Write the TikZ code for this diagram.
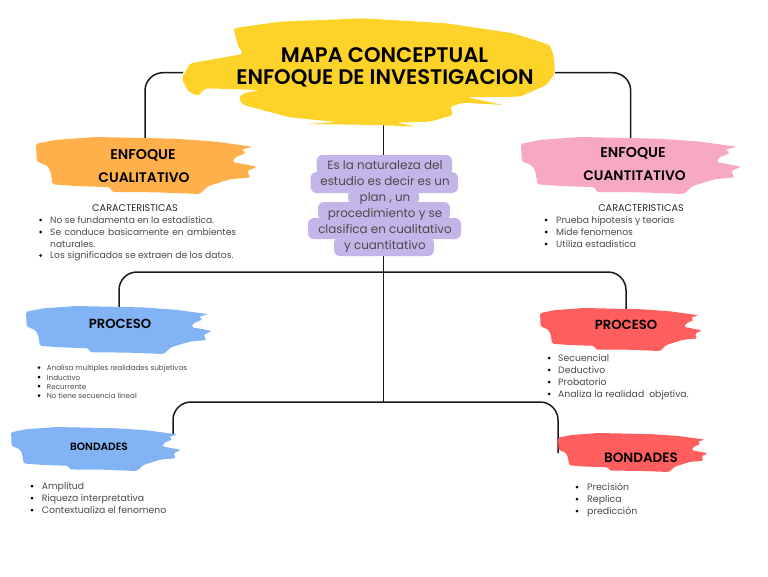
\documentclass[tikz,border=0pt]{standalone}
\usepackage{fontspec}
\setmainfont{Poppins}
\newfontfamily\headfont{Poppins SemiBold}
\newfontfamily\bodyfont{Poppins}
\definecolor{cyellow}{HTML}{FDD32A}
\definecolor{corange}{HTML}{FFB04B}
\definecolor{cpink}{HTML}{F7A8C4}
\definecolor{cblue}{HTML}{82B4F5}
\definecolor{cred}{HTML}{FF5E5E}
\definecolor{cpurple}{HTML}{C4B5E8}
\definecolor{cbody}{HTML}{4A4A4A}
\newcommand\fs[1]{\fontsize{#1}{#1}\selectfont}
\tikzset{
  conn/.style={draw=black!90,line width=1.5pt,rounded corners=18pt},
  head/.style={text=black,inner sep=0pt,anchor=center,yshift=-1.5pt,font=\headfont},
  subhead/.style={text=black!85,inner sep=0pt,anchor=center,font=\bodyfont},
  bodytxt/.style={text=cbody,inner sep=0pt,anchor=base west,font=\bodyfont},
  midtxt/.style={text=cbody,inner sep=0pt,anchor=base,font=\bodyfont\fs{11.9}},
  bul/.style={circle,fill=black,inner sep=0pt,minimum size=3pt},
  rowbox/.style={fill=cpurple,rounded corners=6pt}
}
\newcommand\brush[5]{%
  \pgfmathsetmacro\bw{(#3-#1)/100}\pgfmathsetmacro\bh{(#4-#2)/100}%
  \begin{scope}[shift={(#1,#2)},x=\bw pt,y=-\bh pt]
  \fill[#5,rounded corners=1.5pt] (0,12)--(9,5)--(27,0)--(63,3)--(81,8)--(98,17)--(93,22)--(95,28)--(90,36)--(89,44)--(100,52)--(95.5,60)--(97,71)--(88,74)--(78,86)--(74,100)--(54,97)--(34.5,96.5)--(33.5,88)--(18,86)--(7.5,83)--(6.5,60)--(5,50)--(0.4,43)--cycle;
  \end{scope}}
% bullet item: bullet x, text x, baseline y, name, text, style
\newcommand\litem[6]{%
  \node[bul] (b#4) at (#1,#3-3) {};
  \node[bodytxt,#6] (#4) at (#2,#3) {#5};}
\begin{document}
\begin{tikzpicture}[x=1pt,y=-1pt]
\useasboundingbox (0,0) rectangle (768,576);
\fill[white] (0,0) rectangle (768,576);
% connector anchor points
\coordinate (titleL) at (183,72.7);
\coordinate (titleR) at (555,72.7);
\coordinate (titleB) at (383.5,120);
\coordinate (cualTop) at (145,138);
\coordinate (cuanTop) at (630.7,138);
\coordinate (hubA) at (383.5,272);
\coordinate (hubB) at (383.5,402);
\coordinate (procLTop) at (119,307);
\coordinate (procRTop) at (626,309);
\coordinate (bondLTop) at (173,434);
\coordinate (bondRTop) at (558,453);
% connectors
\draw[conn] (titleL) -| (cualTop);
\draw[conn] (titleR) -| (cuanTop);
\draw[conn] (titleB) -- (hubA);
\draw[conn] (hubA) -- (hubB);
\draw[conn] (procLTop) |- (hubA) -| (procRTop);
\draw[conn] (bondLTop) |- (hubB) -| (bondRTop);
% title brush
\begin{scope}[shift={(130,10)},x=0.3333pt,y=-0.3333pt]
\fill[cyellow,rounded corners=3pt] (310,55)--(450,35)--(700,25)--(950,40)--(1150,70)--(1260,105)--(1272,140)--(1275,190)--(1250,225)--(1170,260)--(1010,262)--(1120,285)--(1000,278)--(960,290)--(970,315)--(900,335)--(800,338)--(860,350)--(740,345)--(530,342)--(620,336)--(480,322)--(340,285)--(325,265)--(340,250)--(390,240)--(225,235)--(205,258)--(175,245)--(155,205)--(180,160)--(340,132)--(325,110)--cycle;
\end{scope}
\brush{36}{137}{257}{194}{corange}
\brush{521}{137}{741}{194}{cpink}
\brush{26}{306}{212}{354}{cblue}
\brush{540}{308}{702}{351}{cred}
\brush{11}{427}{181}{471}{cblue}
\brush{558}{433}{708}{472}{cred}
% purple box
\fill[rowbox] (316.7,155) rectangle (452,175);
\fill[rowbox] (310.7,172) rectangle (458,193);
\fill[rowbox] (348,190) rectangle (419,204);
\fill[rowbox] (318,202) rectangle (450,220);
\fill[rowbox] (308,218) rectangle (461,239);
\fill[rowbox] (334,237) rectangle (434,256);
% headings
\node[head,font=\headfont\fs{21.1}] (t1) at (384.5,53.5) {MAPA CONCEPTUAL};
\node[head,font=\headfont\fs{21.1}] (t2) at (385,77) {ENFOQUE DE INVESTIGACION};
\node[head,font=\headfont\fs{14.2}] (c1) at (143,154) {ENFOQUE};
\node[head,font=\headfont\fs{13.9}] (c2) at (144,176) {CUALITATIVO};
\node[head,font=\headfont\fs{14.2}] (q1) at (633,152) {ENFOQUE};
\node[head,font=\headfont\fs{13.8}] (q2) at (634.5,174) {CUANTITATIVO};
\node[head,font=\headfont\fs{13.2}] (pl) at (120,322) {PROCESO};
\node[head,font=\headfont\fs{13.2}] (pr) at (626,323) {PROCESO};
\node[head,font=\headfont\fs{10.6}] (bl) at (99,445.5) {BONDADES};
\node[head,font=\headfont\fs{13.5}] (br) at (641,456.5) {BONDADES};
% central text
\node[midtxt] (m1) at (385,169) {Es la naturaleza del};
\node[midtxt] (m2) at (385,185) {estudio es decir es un};
\node[midtxt] (m3) at (385,201) {plan , un};
\node[midtxt] (m4) at (385,217) {procedimiento y se};
\node[midtxt] (m5) at (385,233) {clasifica en cualitativo};
\node[midtxt] (m6) at (385,249) {y cuantitativo};
% left characteristics
\node[subhead,font=\bodyfont\fs{9.7}] (ca) at (135,208) {CARACTERISTICAS};
\litem{40.7}{50}{223}{a1}{No se fundamenta en la estadistica.}{font=\bodyfont\fs{9.1}}
\litem{40.7}{50}{235}{a2}{\hbox to 186pt{Se\hfill conduce\hfill basicamente\hfill en\hfill ambientes}}{font=\bodyfont\fs{9.1}}
\node[bodytxt,font=\bodyfont\fs{9.1}] (a2b) at (50,247) {naturales.};
\litem{40.7}{50}{258.5}{a3}{Los significados se extraen de los datos.}{font=\bodyfont\fs{9.2}}
% right characteristics
\node[subhead,font=\bodyfont\fs{9.7}] (cb) at (641,208) {CARACTERISTICAS};
\litem{546}{556}{223}{d1}{Prueba hipotesis y teorias}{font=\bodyfont\fs{9.2}}
\litem{546}{556}{235}{d2}{Mide fenomenos}{font=\bodyfont\fs{9.2}}
\litem{546}{556}{247}{d3}{Utiliza estadistica}{font=\bodyfont\fs{9.2}}
% left process
\litem{39}{46.7}{370.5}{e1}{Analisa multiples realidades subjetivas}{font=\bodyfont\fs{7.2}}
\litem{39}{46.7}{380}{e2}{Inductivo}{font=\bodyfont\fs{7.2}}
\litem{39}{46.7}{389.2}{e3}{Recurrente}{font=\bodyfont\fs{7.2}}
\litem{39}{46.7}{398.5}{e4}{No tiene secuencia lineal}{font=\bodyfont\fs{7.2}}
% right process
\litem{549}{558}{361}{f1}{Secuencial}{font=\bodyfont\fs{9.3}}
\litem{549}{558}{373}{f2}{Deductivo}{font=\bodyfont\fs{9.3}}
\litem{549}{558}{385}{f3}{Probatorio}{font=\bodyfont\fs{9.3}}
\litem{549}{558}{397}{f4}{Analiza la realidad\ \ objetiva.}{font=\bodyfont\fs{9.3}}
% left bondades
\litem{32}{41.7}{489}{g1}{Amplitud}{font=\bodyfont\fs{9.3}}
\litem{32}{41.7}{501}{g2}{Riqueza interpretativa}{font=\bodyfont\fs{9.3}}
\litem{32}{41.7}{513}{g3}{Contextualiza el fenomeno}{font=\bodyfont\fs{9.3}}
% right bondades
\litem{577}{587}{490}{h1}{Precisión}{font=\bodyfont\fs{9.4}}
\litem{577}{587}{502}{h2}{Replica}{font=\bodyfont\fs{9.4}}
\litem{577}{587}{514}{h3}{predicción}{font=\bodyfont\fs{9.4}}
\end{tikzpicture}
\end{document}
